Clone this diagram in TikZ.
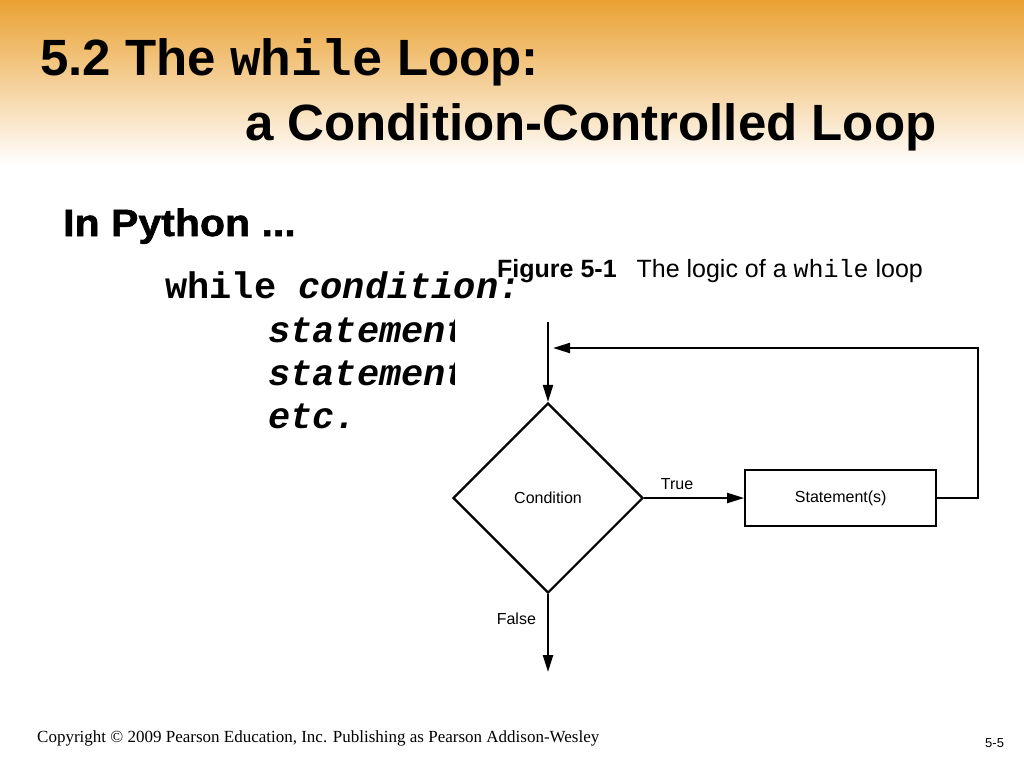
\documentclass[tikz,border=0pt]{standalone}
\usepackage{fontspec}
\setmainfont{Liberation Sans}
\newfontfamily\monofam{Liberation Mono}
\newfontfamily\serifam{Liberation Serif}
\newfontfamily\heavyfam[FakeStretch=1.08,BoldFeatures={FakeBold=1.5}]{Liberation Sans}
\usetikzlibrary{arrows.meta}
\usetikzlibrary{positioning}
\usetikzlibrary{shapes.geometric}
\definecolor{headorange}{RGB}{234,161,50}

\begin{document}
\begin{tikzpicture}[x=1pt,y=-1pt,
  txt/.style={anchor=base west,inner sep=0pt},
  code/.style={txt,font=\monofam\fontsize{37}{44}\selectfont\bfseries},
  flow/.style={draw,line width=2.2pt,font=\fontsize{16}{19}\selectfont,inner sep=0pt},
  arr/.style={line width=2.2pt,-{Triangle[length=17pt,width=10pt]}},
  lbl/.style={font=\fontsize{16}{19}\selectfont,inner sep=0pt}]
\useasboundingbox (0,0) rectangle (1024,768);
\fill[white] (0,0) rectangle (1024,768);
\shade[top color=headorange,bottom color=white] (0,0) rectangle (1024,165);
\node[txt,font=\fontsize{51}{61}\selectfont\bfseries] (title1) at (40,75) {5.2 The {\monofam while} Loop:};
\node[txt,font=\fontsize{51}{61}\selectfont\bfseries] (title2) at (245,140) {a Condition-Controlled Loop};
\node[txt,font=\heavyfam\fontsize{38}{46}\selectfont\bfseries] (python) at (63,236) {In Python ...};

\node[code] (line1) at (165,298) {while \textit{condition:}};
\node[code] (line2) at (268,342) {\textit{statement}};
\node[code] (line3) at (268,385) {\textit{statement}};
\node[code] (line4) at (268,428) {\textit{etc.}};

\fill[white] (455,305) rectangle (1000,700);
\node[txt,font=\fontsize{25}{30}\selectfont] (caption) at (497,277) {\textbf{Figure 5-1}\hspace{13pt} The logic of a {\monofam while} loop};

\node[flow,diamond,minimum width=190pt,minimum height=190pt] (cond) at (548,498) {Condition};
\node[flow,rectangle,minimum width=191pt,minimum height=56pt,right=100pt of cond] (stmt) {Statement(s)};
\coordinate (entry) at (548,322);
\coordinate (back) at (553,348);
\coordinate (exit) at (548,672);
\draw[arr] (entry) -- (cond.north);
\draw[arr] (cond.east) -- node[lbl,pos=0.33,above=7pt] (true) {True} (stmt.west);
\draw[arr] (stmt.east) -- ++(41,0) |- (back);
\draw[arr] (cond.south) -- node[lbl,pos=0.32,left=11pt] (false) {False} (exit);

\node[txt,font=\serifam\fontsize{17}{20}\selectfont] (copy) at (37,742) {Copyright \textcopyright{} 2009 Pearson Education, Inc. Publishing as Pearson Addison-Wesley};
\node[txt,font=\fontsize{13}{16}\selectfont] (page) at (985,747) {5-5};
\end{tikzpicture}
\end{document}
